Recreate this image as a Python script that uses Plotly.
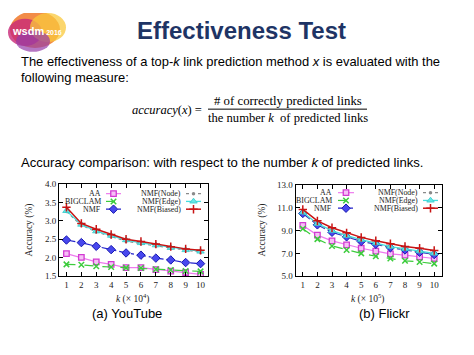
import plotly.graph_objects as go

# Page is rendered with an 8px body margin: page pixel p -> figure pixel p - OFF
OFF = 8
PAGE_W, PAGE_H = 474, 355
W, H = PAGE_W - OFF, PAGE_H - OFF

k_values = [1, 2, 3, 4, 5, 6, 7, 8, 9, 10]
series_names = ["AA", "BIGCLAM", "NMF", "NMF(Node)", "NMF(Edge)", "NMF(Biased)"]

youtube_aa = [2.11, 2.01, 1.89, 1.82, 1.73, 1.73, 1.68, 1.64, 1.60, 1.55]
youtube_bigclam = [1.82, 1.81, 1.77, 1.75, 1.73, 1.72, 1.69, 1.67, 1.64, 1.63]
youtube_nmf = [2.48, 2.41, 2.31, 2.22, 2.13, 2.07, 1.99, 1.94, 1.87, 1.84]
youtube_node = [3.25, 2.88, 2.70, 2.57, 2.45, 2.38, 2.32, 2.25, 2.20, 2.15]
youtube_edge = [3.27, 2.90, 2.72, 2.60, 2.48, 2.40, 2.34, 2.27, 2.21, 2.17]
youtube_biased = [3.37, 2.93, 2.77, 2.63, 2.50, 2.44, 2.37, 2.30, 2.24, 2.20]

flickr_aa = [9.45, 8.60, 8.10, 7.75, 7.45, 7.20, 6.95, 6.85, 6.70, 6.55]
flickr_bigclam = [9.15, 8.25, 7.65, 7.30, 7.00, 6.75, 6.55, 6.35, 6.25, 6.10]
flickr_nmf = [10.50, 9.50, 8.85, 8.45, 8.05, 7.80, 7.50, 7.30, 7.10, 6.90]
flickr_node = [10.55, 9.55, 8.95, 8.50, 8.15, 7.85, 7.55, 7.35, 7.15, 6.95]
flickr_edge = [10.60, 9.60, 9.00, 8.55, 8.20, 7.90, 7.60, 7.40, 7.20, 7.00]
flickr_biased = [10.85, 9.85, 9.25, 8.80, 8.40, 8.10, 7.85, 7.60, 7.45, 7.25]

youtube_values = [youtube_aa, youtube_bigclam, youtube_nmf, youtube_node, youtube_edge, youtube_biased]
flickr_values = [flickr_aa, flickr_bigclam, flickr_nmf, flickr_node, flickr_edge, flickr_biased]

youtube_ticks = [1.5, 2.0, 2.5, 3.0, 3.5, 4.0]
flickr_ticks = [5.0, 7.0, 9.0, 11.0, 13.0]


def px_x(p):
    return (p - OFF) / W


def px_y(p):
    return 1 - (p - OFF) / H


STYLES = {
    "AA": dict(line=dict(color="#ee7bee", width=1.2, dash="solid"),
               marker=dict(symbol="square", size=5.5, color="#f6c0f6",
                           line=dict(color="#d23ad2", width=1.3))),
    "BIGCLAM": dict(line=dict(color="#3ccc3c", width=1.2, dash="dash"),
                    marker=dict(symbol="x-thin-open", size=5.5, color="#3ccc3c",
                                line=dict(color="#3ccc3c", width=1.5))),
    "NMF": dict(line=dict(color="#2222cc", width=1.2, dash="dashdot"),
                marker=dict(symbol="diamond", size=6.5, color="#4848ee",
                            line=dict(color="#1818b0", width=1))),
    "NMF(Node)": dict(line=dict(color="#8a8a8a", width=1.2, dash="dot"),
                      marker=dict(symbol="circle", size=3.5, color="#8a8a8a",
                                  line=dict(width=0))),
    "NMF(Edge)": dict(line=dict(color="#44dede", width=1.3, dash="solid"),
                      marker=dict(symbol="triangle-up", size=6.5, color="#66e6e6",
                                  line=dict(color="#33cccc", width=0.8))),
    "NMF(Biased)": dict(line=dict(color="#c81414", width=1.5, dash="solid"),
                        marker=dict(symbol="cross-thin-open", size=6, color="#c81414",
                                    line=dict(color="#c81414", width=1.5))),
}

fig = go.Figure()

for name, vals in zip(series_names, youtube_values):
    fig.add_trace(go.Scatter(x=k_values, y=vals, mode="lines+markers", name=name,
                             xaxis="x", yaxis="y", showlegend=False, **STYLES[name]))
for name, vals in zip(series_names, flickr_values):
    fig.add_trace(go.Scatter(x=k_values, y=vals, mode="lines+markers", name=name,
                             xaxis="x2", yaxis="y2", showlegend=False, **STYLES[name]))

# Legend (gnuplot style: right-aligned label, then sample), in page pixels
legend_layout = [
    ("AA", 103, 106, 121, 194), ("BIGCLAM", 103, 106, 121, 202), ("NMF", 103, 106, 121, 210),
    ("NMF(Node)", 183, 186, 201, 194), ("NMF(Edge)", 183, 186, 201, 202), ("NMF(Biased)", 183, 186, 201, 210),
    ("AA", 334, 338, 354, 193), ("BIGCLAM", 334, 338, 354, 201), ("NMF", 334, 338, 354, 209),
    ("NMF(Node)", 420, 423, 438, 193), ("NMF(Edge)", 420, 423, 438, 201), ("NMF(Biased)", 420, 423, 438, 209),
]
annotations = []
for name, tx, sx0, sx1, ry in legend_layout:
    st = STYLES[name]
    fig.add_trace(go.Scatter(x=[sx0, sx1], y=[ry, ry], mode="lines", line=st["line"],
                             xaxis="x3", yaxis="y3", showlegend=False, hoverinfo="skip"))
    fig.add_trace(go.Scatter(x=[(sx0 + sx1) / 2], y=[ry], mode="markers", marker=st["marker"],
                             xaxis="x3", yaxis="y3", showlegend=False, hoverinfo="skip"))
    annotations.append(dict(x=tx, y=ry, xref="x3", yref="y3", text=name, showarrow=False,
                            xanchor="right", yanchor="middle",
                            font=dict(family="Liberation Serif", size=7.9, color="#222")))

# Logo blob (decorative)
logo_blobs = [
    (10, 6, 60, 44, "rgba(240,120,40,0.85)"),
    (8, 14, 42, 42, "rgba(200,40,120,0.8)"),
    (30, 8, 66, 38, "rgba(250,200,60,0.75)"),
    (16, 26, 50, 48, "rgba(150,60,170,0.7)"),
]
shapes = []
for x0, y0, x1, y1, c in logo_blobs:
    shapes.append(dict(type="circle", xref="x3", yref="y3", x0=x0, y0=y0, x1=x1, y1=y1,
                       fillcolor=c, line=dict(width=0), layer="below"))
annotations.append(dict(x=10, y=27, xref="x3", yref="y3", xanchor="left", yanchor="middle",
                        text="<b>wsdm</b><span style='font-size:7px'><b> 2016</b></span>",
                        showarrow=False, font=dict(family="Liberation Sans", size=11, color="white")))

# Fraction bar
shapes.append(dict(type="line", xref="x3", yref="y3", x0=208, x1=367, y0=107, y1=107,
                   line=dict(color="black", width=1)))

sans = "Liberation Sans"
serif = "Liberation Serif"
texts = [
    (241, 26, "<b>Effectiveness Test</b>", "center", dict(family=sans, size=24, color="#1e3465")),
    (19, 58, "The effectiveness of a top-<i>k</i> link prediction method <i>x</i> is evaluated with the",
     "left", dict(family=sans, size=12.95, color="black")),
    (19, 74, "following measure:", "left", dict(family=sans, size=12.95, color="black")),
    (204, 107.5, "<i>accuracy</i>(<i>x</i>) =", "right", dict(family=serif, size=12.5, color="black")),
    (288, 98.5, "# of correctly predicted links", "center", dict(family=serif, size=12.8, color="black")),
    (288, 116.5, "the number <i>k</i>  of predicted links", "center", dict(family=serif, size=12.6, color="black")),
    (19, 161.5, "Accuracy comparison: with respect to the number <i>k</i> of predicted links.",
     "left", dict(family=sans, size=13.1, color="black")),
    (127, 317, "(a) YouTube", "center", dict(family=sans, size=13, color="black")),
    (384, 317, "(b) Flickr", "center", dict(family=sans, size=13, color="black")),
    (133, 302, "<i>k</i> (× 10<sup>4</sup>)", "center", dict(family=serif, size=9.5, color="#222")),
    (368, 302, "<i>k</i> (× 10<sup>5</sup>)", "center", dict(family=serif, size=9.5, color="#222")),
]
for x, y, t, anc, f in texts:
    annotations.append(dict(x=x, y=y, xref="x3", yref="y3", text=t, showarrow=False,
                            xanchor=anc, yanchor="middle", font=f))
annotations.append(dict(x=30, y=232, xref="x3", yref="y3", text="Accuracy (%)", textangle=-90,
                        showarrow=False, font=dict(family=serif, size=9.5, color="#222")))
annotations.append(dict(x=263, y=232, xref="x3", yref="y3", text="Accuracy (%)", textangle=-90,
                        showarrow=False, font=dict(family=serif, size=9.5, color="#222")))

axis_common = dict(showgrid=False, zeroline=False, showline=True, linecolor="black", linewidth=1,
                   mirror="allticks", ticks="inside", ticklen=4, tickcolor="black",
                   tickfont=dict(family=serif, size=9, color="#222"))

fig.update_layout(
    width=W, height=H, margin=dict(l=0, r=0, t=0, b=0),
    paper_bgcolor="white", plot_bgcolor="rgba(0,0,0,0)", showlegend=False,
    xaxis=dict(domain=[px_x(59), px_x(208)], range=[0.5, 10.5], tickvals=k_values, anchor="y", **axis_common),
    yaxis=dict(domain=[px_y(279), px_y(184)], range=[1.5, 4.0], tickvals=youtube_ticks,
               tickformat=".1f", anchor="x", **axis_common),
    xaxis2=dict(domain=[px_x(295.5), px_x(441.5)], range=[0.5, 10.5], tickvals=k_values, anchor="y2", **axis_common),
    yaxis2=dict(domain=[px_y(279), px_y(185)], range=[5.0, 13.0], tickvals=flickr_ticks,
                tickformat=".1f", anchor="x2", **axis_common),
    xaxis3=dict(domain=[0, 1], range=[OFF, PAGE_W], visible=False, fixedrange=True, anchor="y3"),
    yaxis3=dict(domain=[0, 1], range=[PAGE_H, OFF], visible=False, fixedrange=True, anchor="x3"),
    annotations=annotations, shapes=shapes,
)

fig.write_html("out.html")
